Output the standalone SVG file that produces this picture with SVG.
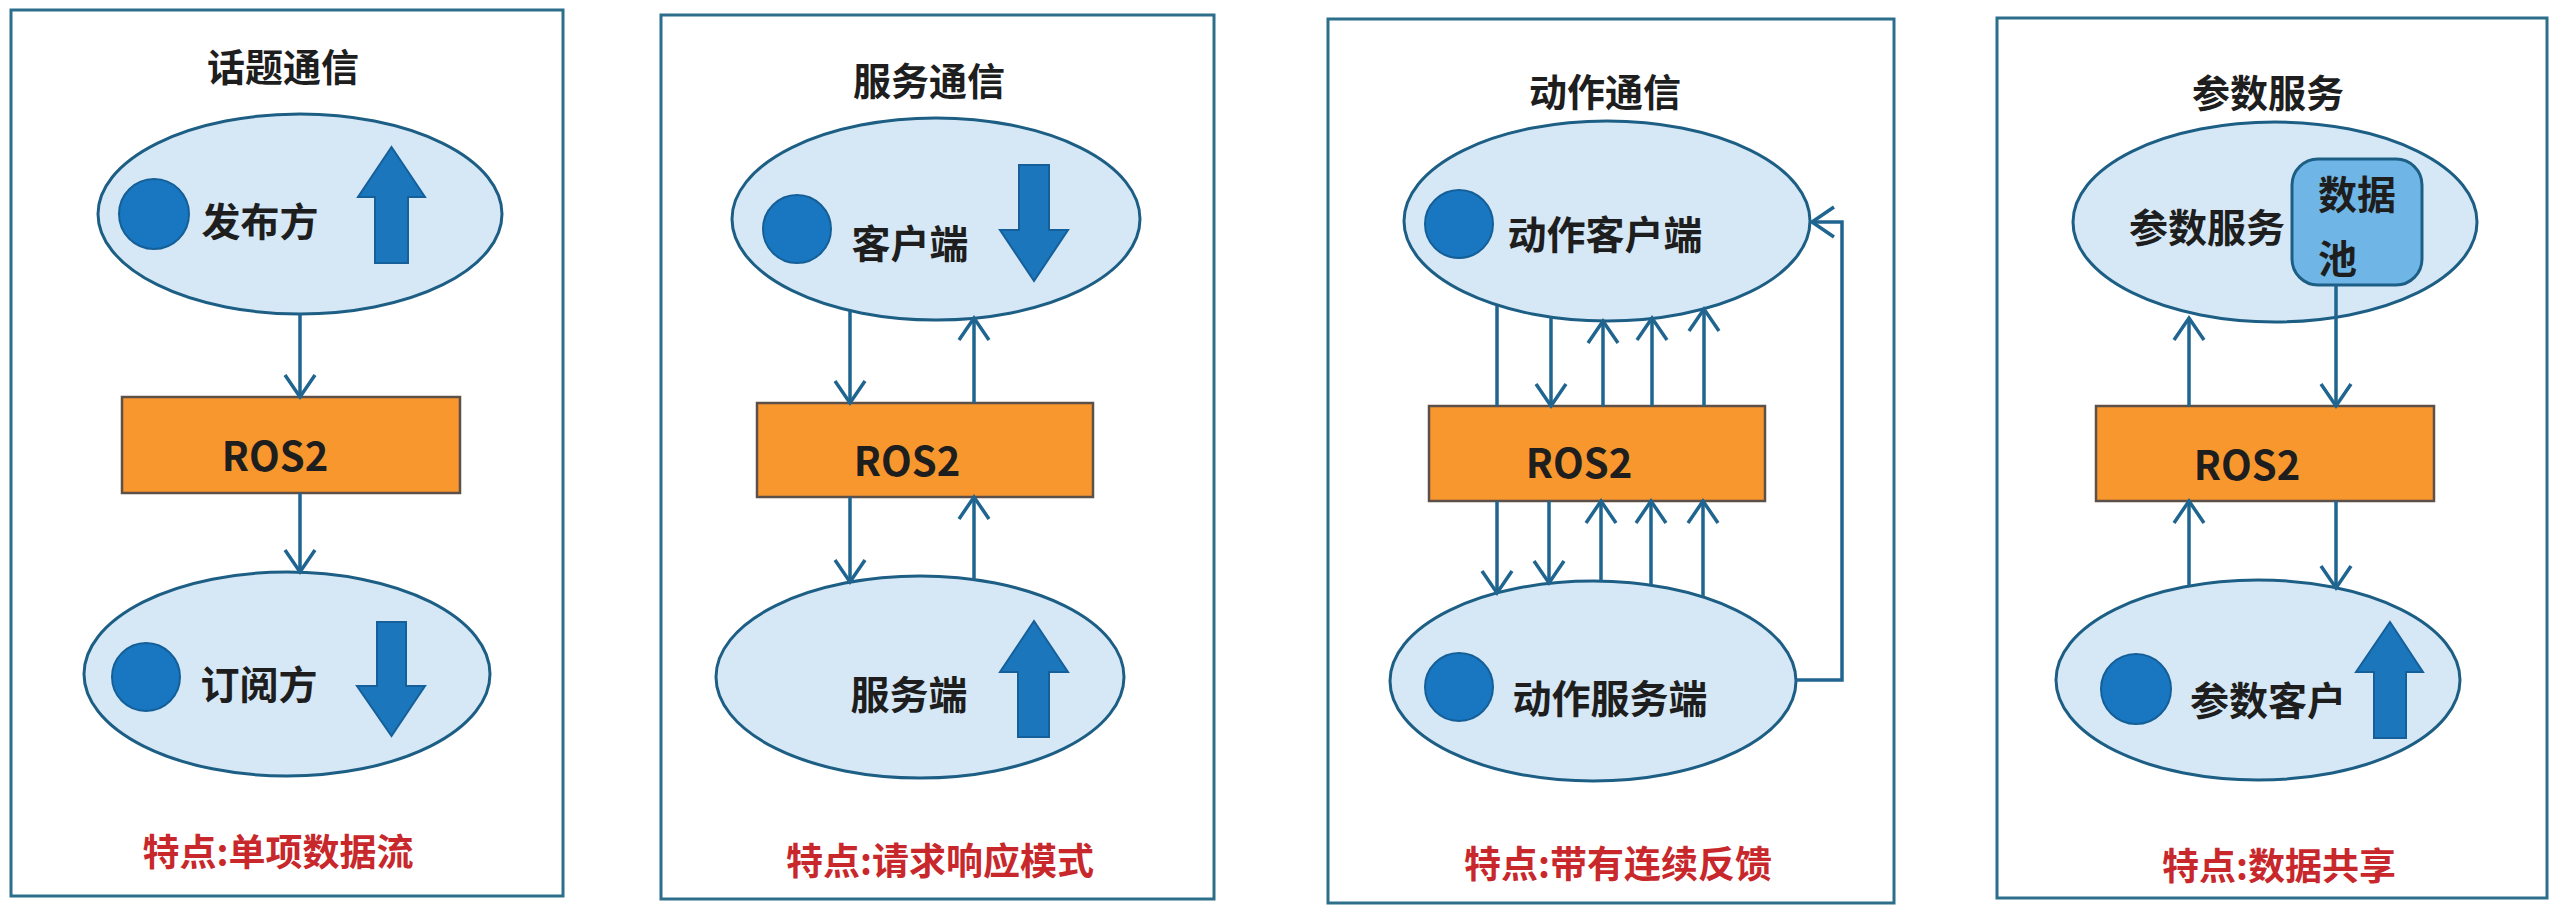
<svg xmlns="http://www.w3.org/2000/svg" width="2566" height="912" viewBox="0 0 2566 912">
<style>
.panel{fill:#ffffff;stroke:#2d6e8a;stroke-width:3}
.ell{fill:#d6e8f6;stroke:#1d5e85;stroke-width:3}
.dot{fill:#1877c0;stroke:#155f98;stroke-width:2}
.big{fill:#1b76bc;stroke:#15609a;stroke-width:2}
.ros{fill:#f7972e;stroke:#5c5048;stroke-width:2.5}
.pool{fill:#6fb6e6;stroke:#1d5e85;stroke-width:3}
.t{font-family:'Noto Sans CJK SC','Noto Sans',sans-serif;font-weight:700;fill:#1e1e1e;dominant-baseline:central}
.c{text-anchor:middle}
.title{font-size:38px}
.lbl{font-size:39px}
.rt{font-size:40px}
.foot{font-size:37px;fill:#c8282c}
.con{fill:none;stroke:#1f6590;stroke-width:3.5}
.arr{marker-end:url(#ah)}
</style>
<defs>
<marker id="ah" markerUnits="userSpaceOnUse" markerWidth="40" markerHeight="40" viewBox="-30 -20 40 40" refX="0" refY="0" orient="auto" overflow="visible">
<path d="M-22,-15 L0,0 L-22,15" fill="none" stroke="#1f6590" stroke-width="3.5" stroke-linejoin="miter"/>
</marker>
</defs>
<rect width="2566" height="912" fill="#ffffff"/>

<!-- Panel 1 -->
<g id="panel-topic">
<rect class="panel" x="11" y="10" width="552" height="886"/>
<text class="t c title" x="283" y="64">话题通信</text>
<text class="t c foot" x="278" y="850">特点:单项数据流</text>
</g>
<g id="publisher">
<ellipse class="ell" cx="300" cy="214" rx="202" ry="100"/>
<circle class="dot" cx="154" cy="214" r="35"/>
<text class="t c lbl" x="260" y="219">发布方</text>
<polygon class="big" points="391.5,147 425,197 408,197 408,263 375,263 375,197 358,197"/>
</g>
<g id="ros2-1">
<rect class="ros" x="122" y="397" width="338" height="96"/>
<text class="t c rt" x="275" y="454">ROS2</text>
</g>
<g id="subscriber">
<ellipse class="ell" cx="287" cy="674" rx="203" ry="102"/>
<circle class="dot" cx="146" cy="677" r="34"/>
<text class="t c lbl" x="259" y="682">订阅方</text>
<polygon class="big" points="377,622 406,622 406,686 425,686 391.5,736 357,686 377,686"/>
</g>

<!-- Panel 2 -->
<g id="panel-service">
<rect class="panel" x="661" y="15" width="553" height="884"/>
<text class="t c title" x="929" y="78">服务通信</text>
<text class="t c foot" x="940" y="859">特点:请求响应模式</text>
</g>
<g id="client">
<ellipse class="ell" cx="936" cy="219" rx="204" ry="101"/>
<circle class="dot" cx="797" cy="229" r="34"/>
<text class="t c lbl" x="910" y="241">客户端</text>
<polygon class="big" points="1019,165 1049,165 1049,230 1068,230 1034,281 1000,230 1019,230"/>
</g>
<g id="ros2-2">
<rect class="ros" x="757" y="403" width="336" height="94"/>
<text class="t c rt" x="907" y="459">ROS2</text>
</g>
<g id="server">
<ellipse class="ell" cx="920" cy="677" rx="204" ry="101"/>
<text class="t c lbl" x="909" y="692">服务端</text>
<polygon class="big" points="1034,621 1068,672 1049,672 1049,737 1018,737 1018,672 1000,672"/>
</g>

<!-- Panel 3 -->
<g id="panel-action">
<rect class="panel" x="1328" y="19" width="566" height="884"/>
<text class="t c title" x="1605" y="89">动作通信</text>
<text class="t c foot" x="1618" y="862">特点:带有连续反馈</text>
</g>
<g id="action-client">
<ellipse class="ell" cx="1607" cy="221" rx="203" ry="100"/>
<circle class="dot" cx="1459" cy="224" r="34"/>
<text class="t c lbl" x="1605" y="232">动作客户端</text>
</g>
<g id="ros2-3">
<rect class="ros" x="1429" y="406" width="336" height="95"/>
<text class="t c rt" x="1579" y="461">ROS2</text>
</g>
<g id="action-server">
<ellipse class="ell" cx="1593" cy="681" rx="203" ry="100"/>
<circle class="dot" cx="1459" cy="687" r="34"/>
<text class="t c lbl" x="1610" y="696">动作服务端</text>
</g>

<!-- Panel 4 -->
<g id="panel-param">
<rect class="panel" x="1997" y="18" width="550" height="880"/>
<text class="t c title" x="2268" y="90">参数服务</text>
<text class="t c foot" x="2279" y="864">特点:数据共享</text>
</g>
<g id="param-server">
<ellipse class="ell" cx="2275" cy="222" rx="202" ry="100"/>
<text class="t c lbl" x="2207" y="225">参数服务</text>
</g>
<g id="data-pool">
<rect class="pool" x="2292" y="159" width="130" height="126" rx="26" ry="26"/>
<text class="t lbl" x="2318" y="192">数据</text>
<text class="t lbl" x="2318" y="256">池</text>
</g>
<g id="ros2-4">
<rect class="ros" x="2096" y="406" width="338" height="95"/>
<text class="t c rt" x="2247" y="463">ROS2</text>
</g>
<g id="param-client">
<ellipse class="ell" cx="2258" cy="680" rx="202" ry="100"/>
<circle class="dot" cx="2136" cy="689" r="35"/>
<text class="t c lbl" x="2268" y="698">参数客户</text>
<polygon class="big" points="2390,622 2423,672 2406,672 2406,738 2374,738 2374,672 2356,672"/>
</g>

<g id="connectors">
<!-- panel 1 -->
<line class="con arr" x1="300" y1="314" x2="300" y2="397"/>
<line class="con arr" x1="300" y1="493" x2="300" y2="572"/>
<!-- panel 2 -->
<line class="con arr" x1="850" y1="311" x2="850" y2="403"/>
<line class="con arr" x1="974" y1="403" x2="974" y2="318"/>
<line class="con arr" x1="850" y1="497" x2="850" y2="582"/>
<line class="con arr" x1="974" y1="580" x2="974" y2="497"/>
<!-- panel 3 -->
<line class="con" x1="1497" y1="306" x2="1497" y2="406"/>
<line class="con arr" x1="1551" y1="317" x2="1551" y2="406"/>
<line class="con arr" x1="1603" y1="406" x2="1603" y2="321"/>
<line class="con arr" x1="1652" y1="406" x2="1652" y2="318"/>
<line class="con arr" x1="1704" y1="406" x2="1704" y2="309"/>
<line class="con arr" x1="1497" y1="501" x2="1497" y2="593"/>
<line class="con arr" x1="1549" y1="501" x2="1549" y2="583"/>
<line class="con arr" x1="1601" y1="581" x2="1601" y2="501"/>
<line class="con arr" x1="1651" y1="585" x2="1651" y2="501"/>
<line class="con arr" x1="1703" y1="597" x2="1703" y2="501"/>
<path class="con arr" d="M1796,680 H1842 V222 H1812"/>
<!-- panel 4 -->
<line class="con arr" x1="2189" y1="406" x2="2189" y2="318"/>
<line class="con arr" x1="2336" y1="285" x2="2336" y2="406"/>
<line class="con arr" x1="2189" y1="586" x2="2189" y2="501"/>
<line class="con arr" x1="2336" y1="501" x2="2336" y2="588"/>
</g>
</svg>
